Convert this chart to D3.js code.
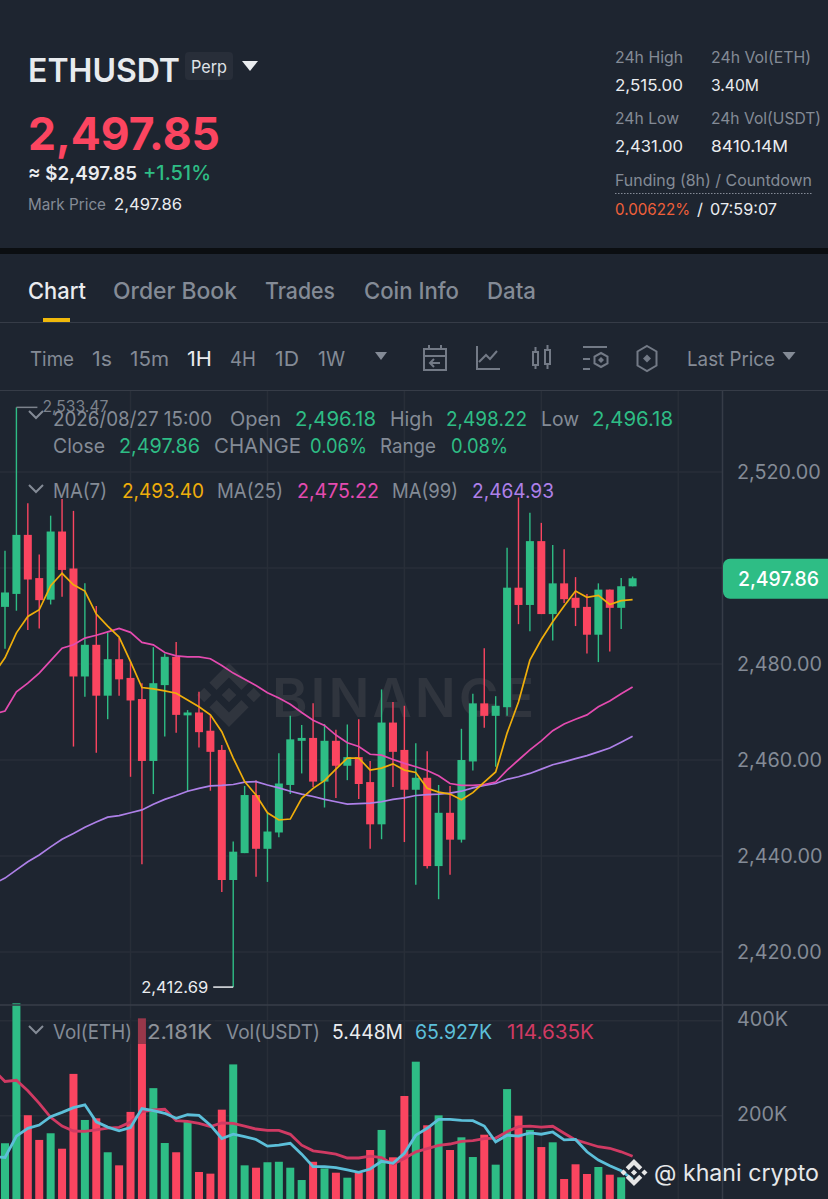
<!DOCTYPE html>
<html>
<head>
<meta charset="utf-8">
<script src="https://cdn.jsdelivr.net/npm/d3@7"></script>
<style>
html, body { margin: 0; padding: 0; background: #1e2530; overflow: hidden; }
svg { display: block; font-family: Inter, "Open Sans", sans-serif; }
</style>
</head>
<body>
<div id="chart"></div>
<script>
// candles, oldest first
var candleOpen = [2491.9,2494.6,2506.9,2497.9,2493.4,2507.6,2499.9,2477.4,2484.0,2473.4,2481.0,2477.1,2472.7,2459.8,2475.6,2481.5,2469.3,2469.9,2466.1,2462.1,2435.0,2440.6,2452.7,2441.5,2444.9,2454.8,2464.0,2464.6,2455.5,2464.0,2458.8,2460.6,2455.4,2446.6,2467.8,2462.1,2453.8,2456.3,2437.9,2449.0,2443.4,2459.7,2471.8,2469.2,2471.0,2495.9,2492.3,2505.6,2490.4,2496.8,2493.8,2491.9,2486.1,2495.5,2491.7,2496.18];
var candleHigh = [2503.6,2533.47,2513.5,2502.8,2510.9,2514.4,2511.9,2496.8,2492.1,2486.5,2485.4,2480.5,2476.0,2483.5,2482.2,2484.6,2470.4,2474.2,2469.4,2463.1,2443.0,2454.6,2455.8,2449.0,2461.4,2469.2,2467.3,2471.8,2467.5,2466.3,2467.4,2468.5,2459.8,2474.7,2472.1,2471.3,2463.5,2461.8,2454.8,2454.6,2466.5,2473.8,2483.3,2473.3,2504.2,2514.7,2511.5,2509.4,2504.8,2503.9,2498.1,2494.6,2496.8,2495.5,2497.9,2498.22];
var candleLow = [2483.2,2491.1,2487.1,2487.4,2492.4,2494.0,2462.8,2473.2,2461.5,2468.5,2473.4,2456.5,2438.3,2452.9,2464.9,2465.7,2453.4,2462.6,2453.6,2432.5,2412.69,2440.6,2435.7,2434.6,2443.9,2452.9,2457.2,2454.4,2450.1,2452.1,2455.8,2451.9,2441.5,2443.5,2454.4,2442.9,2434.0,2437.4,2431.0,2436.1,2442.8,2457.8,2466.7,2458.6,2469.2,2488.3,2486.8,2490.4,2484.9,2492.7,2487.9,2482.2,2480.4,2482.6,2487.3,2496.18];
var candleClose = [2494.9,2506.9,2497.6,2493.3,2507.6,2499.6,2477.4,2484.0,2473.4,2481.0,2476.8,2472.4,2459.8,2476.0,2481.5,2469.4,2469.9,2465.8,2461.7,2435.0,2440.9,2452.7,2441.5,2445.1,2455.1,2464.3,2464.6,2455.5,2464.0,2458.8,2460.6,2455.0,2446.6,2467.8,2461.7,2453.8,2456.3,2437.9,2449.0,2443.4,2460.0,2471.8,2469.2,2471.3,2495.9,2492.3,2505.6,2490.4,2496.8,2493.5,2491.7,2486.1,2495.5,2491.7,2496.2,2497.86];
// thousands of ETH
var volumes = [142,436.6,201,149,163,130.5,288,191,194.5,123,95.5,208,405,258,142.5,123,187,81.5,78,212.7,308,95.5,90.5,102,103,90.5,64.6,103,89,80,69.5,80,127.8,170,112.4,241.5,313.7,179.8,200.8,127.8,154.5,113,160,96.9,256,200,170,134,144,66.7,97.7,77.3,92,75.8,70.3,2.181];

// moving averages start one bar left of the first candle, outside the frame
var ma7 = [2477.9,2481.3,2486.5,2489.9,2491.3,2496.3,2498.9,2496.5,2495.2,2490.4,2487.9,2485.6,2480.5,2475.1,2474.8,2474.4,2473.9,2472.5,2471.1,2469.4,2465.9,2460.4,2455.5,2452.7,2449.0,2447.5,2447.7,2452.0,2454.1,2455.7,2458.1,2460.4,2460.4,2457.9,2458.3,2459.2,2457.9,2457.4,2454.1,2453.3,2452.9,2451.7,2453.2,2455.4,2457.5,2465.6,2472.1,2480.8,2485.1,2488.8,2492.1,2495.2,2493.9,2494.3,2492.4,2493.2,2493.40];
var ma25 = [2469.6,2470.2,2474.2,2476.0,2478.1,2480.7,2483.3,2484.0,2485.4,2486.0,2486.7,2487.4,2486.6,2484.5,2484.0,2482.4,2481.7,2481.5,2481.5,2481.1,2479.7,2478.1,2476.8,2475.5,2474.0,2472.9,2471.6,2469.9,2468.3,2467.2,2465.2,2463.6,2462.8,2461.2,2461.0,2460.1,2459.3,2458.6,2457.8,2456.7,2455.1,2454.7,2454.7,2454.9,2455.4,2457.9,2460.0,2462.1,2464.0,2466.1,2467.5,2468.5,2469.4,2471.1,2472.3,2473.8,2475.22];
var ma99 = [2434.2,2435.4,2437.1,2438.8,2440.2,2441.9,2443.5,2444.7,2446.0,2447.1,2448.1,2448.4,2449.0,2449.6,2450.8,2451.8,2452.6,2453.5,2454.1,2454.6,2454.7,2454.9,2455.4,2455.5,2454.8,2454.2,2453.5,2452.9,2452.4,2451.8,2451.3,2450.8,2450.9,2451.0,2451.3,2451.8,2452.1,2452.6,2452.8,2452.9,2453.1,2453.5,2454.2,2454.7,2455.1,2456.0,2456.5,2457.2,2458.1,2459.0,2459.6,2460.3,2460.9,2461.7,2462.5,2463.7,2464.93];
var volMaShort = [114,112,157,173.5,180.4,198,207,217,223,187,176,168,175,215,210.5,205,194.5,202,200.8,180,152,161,156,150,136,138,142,119,92.6,92.6,90.5,85.7,80.8,87.8,104,99.8,120.8,159,173.5,192.4,192.4,190.3,189.5,178.3,145,159,157,164,161,165.7,149,150,124,106.7,94.7,84.2,65.927];
var volMaLong = [296,272,274.5,252.6,226,196.6,178,167.8,167,170,174,175.6,186.7,208.4,212,213.5,189.5,188,184,177,184.6,184,178,172,169,169,160.8,138,126,122.9,119,111,111,115,112,98,110,124,130.5,137.6,140.4,146,147.4,151.6,153,166.3,177,178,176,177.7,163,149,142,134.7,131.4,124,114.635];

var priceTicks = [2420, 2440, 2460, 2480, 2500, 2520];
var priceLabels = [2420, 2440, 2460, 2480, 2520];
var volTicks = [200, 400];
var gridBars = [-1, 11, 23, 35, 47, 59];

var tabs = ["Chart", "Order Book", "Trades", "Coin Info", "Data"];
var tabX = [28, 113, 265, 364, 487];
var tabW = [58, 124, 70, 95, 49];
var intervals = ["Time", "1s", "15m", "1H", "4H", "1D", "1W"];
var intervalX = [30, 92, 130, 187, 230, 275, 318];
var intervalW = [44, 20, 39, 25, 26, 24, 27];

var green = "#2ebd85", red = "#fb4560", grey = "#848b96", white = "#eaecef";
var bg = "#1e2530", gridCol = "#282e38", lineCol = "#363c47";
var width = 828, height = 1199, axisX = 722;

var svg = d3.select("#chart").append("svg")
    .attr("width", width)
    .attr("height", height);

var x = d3.scaleLinear().domain([0, 55]).range([5, 632.6]);
var y = d3.scaleLinear().domain([2420, 2520]).range([952, 472]);
var yVol = d3.scaleLinear().domain([0, 400]).range([1210.7, 1020.7]);

// w is the width the text takes up in the reference
function label(g, str, px, py, size, col, weight, w) {
  var t = g.append("text")
      .attr("x", px)
      .attr("y", py)
      .attr("font-size", size)
      .attr("font-weight", weight || 400)
      .attr("fill", col)
      .text(str);
  if (w) t.attr("textLength", w).attr("lengthAdjust", "spacingAndGlyphs");
  return t;
}
function tri(g, cx, cy, w, h, col) {
  g.append("path")
      .attr("d", "M" + (cx - w / 2) + "," + (cy - h / 2) + "h" + w + "l" + (-w / 2) + "," + h + "z")
      .attr("fill", col);
}
function chevron(g, cx, cy) {
  g.append("path")
      .attr("d", "M" + (cx - 7) + "," + (cy - 4) + "l7,7l7,-7")
      .attr("fill", "none")
      .attr("stroke", grey)
      .attr("stroke-width", 2);
}
// exchange logo, drawn in a 126.61 box
var logoPath = "M38.73 53.2L63.3 28.63l24.58 24.58 14.3-14.3L63.3 0 24.43 38.88z" +
    "M0 63.31l14.3-14.31 14.31 14.31-14.31 14.3z" +
    "M38.73 73.41L63.3 97.98l24.58-24.58 14.31 14.29L63.3 126.61 24.43 87.73z" +
    "M98 63.31l14.3-14.31 14.31 14.3-14.31 14.31z" +
    "M77.83 63.3L63.3 48.76 48.78 63.28 63.3 77.8z";
function logo(g, cx, cy, size, col) {
  var k = size / 126.61;
  g.append("path")
      .attr("d", logoPath)
      .attr("fill", col)
      .attr("transform", "translate(" + (cx - size / 2) + "," + (cy - size / 2) + ") scale(" + k + ")");
}

// ---- header ----
var head = svg.append("g");
label(head, "ETHUSDT", 28, 82, 32.5, "#e8ebee", 600, 152);
head.append("rect").attr("x", 185).attr("y", 52).attr("width", 48).attr("height", 28).attr("rx", 4).attr("fill", "#282e39");
label(head, "Perp", 191, 73, 17, "#dfe3e8", 400, 36);
tri(head, 250, 66, 16, 10, "#eaecef");
label(head, "2,497.85", 28, 150, 45, red, 700, 192);
label(head, "≈ $2,497.85", 28, 180, 19, white, 600, 109);
label(head, "+1.51%", 143, 180, 19.5, green, 500, 68);
label(head, "Mark Price", 28, 210, 15.5, grey, 400, 78);
label(head, "2,497.86", 114, 210, 16.5, white, 400, 68);

label(head, "24h High", 615, 63, 16.5, grey, 400, 68);
label(head, "24h Vol(ETH)", 711, 63, 16.5, grey, 400, 100);
label(head, "2,515.00", 615, 91, 16.5, white, 400, 68);
label(head, "3.40M", 711, 91, 16.5, white, 400, 48);
label(head, "24h Low", 615, 124, 16.5, grey, 400, 64);
label(head, "24h Vol(USDT)", 711, 124, 16.5, grey, 400, 110);
label(head, "2,431.00", 615, 152, 16.5, white, 400, 68);
label(head, "8410.14M", 711, 152, 16.5, white, 400, 77);
label(head, "Funding (8h) / Countdown", 615, 186, 16.2, grey, 400, 197);
head.append("line").attr("x1", 615).attr("x2", 812).attr("y1", 193.5).attr("y2", 193.5)
    .attr("stroke", grey).attr("stroke-width", 1).attr("stroke-dasharray", "1.5,1.5");
label(head, "0.00622%", 615, 215, 16.5, "#f0603a", 400, 75);
label(head, "/", 697, 215, 16.5, white);
label(head, "07:59:07", 710, 215, 16.5, white, 400, 67);

// black band between header and tabs
head.append("rect").attr("x", 0).attr("y", 248).attr("width", width).attr("height", 6).attr("fill", "#0b0e11");

// ---- tabs and toolbar ----
var nav = svg.append("g");
tabs.forEach(function(t, i) {
  label(nav, t, tabX[i], 299, 23, i == 0 ? white : grey, 500, tabW[i]);
});
nav.append("rect").attr("x", 43).attr("y", 318).attr("width", 27).attr("height", 4.5).attr("fill", "#f0b90b");
nav.append("line").attr("x1", 0).attr("x2", width).attr("y1", 322.5).attr("y2", 322.5).attr("stroke", lineCol);
intervals.forEach(function(t, i) {
  label(nav, t, intervalX[i], 366, 20, t == "1H" ? white : grey, 400, intervalW[i]);
});
tri(nav, 381, 356, 12, 8, grey);
label(nav, "Last Price", 687, 366, 20, grey, 400, 88);
tri(nav, 789, 356, 13, 8, grey);
nav.append("line").attr("x1", 0).attr("x2", width).attr("y1", 390.5).attr("y2", 390.5).attr("stroke", lineCol);

var icons = nav.append("g").attr("fill", "none").attr("stroke", "#737a86").attr("stroke-width", 2);
icons.append("path").attr("d", "M424,349h22v21h-22zM424,356h22M429,345v4M441,345v4M440,363h-10m4,-4l-4,4l4,4");
icons.append("path").attr("d", "M477,346v23h23M479,362l7,-7l4,4l7,-8");
icons.append("path").attr("d", "M533,352h5v13h-5zM545,350h5v14h-5zM535.5,347v5M535.5,365v4M547.5,345v5M547.5,364v5");
icons.append("path").attr("d", "M583,347h24M583,359h7M583,369h7M601,353l6.5,3.5v7l-6.5,3.5l-6.5,-3.5v-7z");
icons.append("path").attr("d", "M647,346l9.5,5.5v14l-9.5,5.5l-9.5,-5.5v-14z");
icons.append("path").attr("d", "M647,354.5l4,4l-4,4l-4,-4z").attr("fill", "#737a86").attr("stroke", "none");
icons.append("path").attr("d", "M601,357l3,3l-3,3l-3,-3z").attr("fill", "#737a86").attr("stroke", "none");

// ---- grid ----
var grid = svg.append("g").attr("stroke", gridCol).attr("stroke-width", 1.5);
priceTicks.forEach(function(t) {
  grid.append("line").attr("x1", 0).attr("x2", axisX).attr("y1", y(t)).attr("y2", y(t));
});
volTicks.forEach(function(t) {
  grid.append("line").attr("x1", 0).attr("x2", axisX).attr("y1", yVol(t)).attr("y2", yVol(t));
});
gridBars.forEach(function(b) {
  grid.append("line").attr("x1", x(b)).attr("x2", x(b)).attr("y1", 391).attr("y2", height);
});

// ---- watermark ----
var mark = svg.append("g");
logo(mark, 229, 695, 64, "#30353e");
mark.append("text").attr("x", 272).attr("y", 717).attr("font-size", 54).attr("font-weight", 600)
    .attr("letter-spacing", 3).attr("fill", "#30353e").text("BINANCE");

// ---- price pane ----
var defs = svg.append("defs");
defs.append("clipPath").attr("id", "pricePane").append("rect")
    .attr("x", 0).attr("y", 391).attr("width", axisX).attr("height", 613);
defs.append("clipPath").attr("id", "volPane").append("rect")
    .attr("x", 0).attr("y", 1002).attr("width", axisX).attr("height", 197);

var pricePane = svg.append("g").attr("clip-path", "url(#pricePane)");
var bars = d3.range(candleOpen.length);
function colour(i) { return candleClose[i] >= candleOpen[i] ? green : red; }

pricePane.selectAll("line.wick")
  .data(bars)
  .enter()
  .append("line")
    .attr("class", "wick")
    .attr("x1", function(i) { return x(i); })
    .attr("x2", function(i) { return x(i); })
    .attr("y1", function(i) { return y(candleHigh[i]); })
    .attr("y2", function(i) { return y(candleLow[i]); })
    .attr("stroke", colour)
    .attr("stroke-width", 1.4);

pricePane.selectAll("rect.body")
  .data(bars)
  .enter()
  .append("rect")
    .attr("class", "body")
    .attr("x", function(i) { return x(i) - 4; })
    .attr("width", 8)
    .attr("y", function(i) { return y(Math.max(candleOpen[i], candleClose[i])); })
    .attr("height", function(i) { return Math.max(1, Math.abs(y(candleOpen[i]) - y(candleClose[i]))); })
    .attr("fill", colour);

var priceLine = d3.line()
    .x(function(d, i) { return x(i - 1); })
    .y(function(d) { return y(d); });

[[ma99, "#ae80e8"], [ma25, "#e44bb0"], [ma7, "#efae0b"]].forEach(function(s) {
  pricePane.append("path")
      .attr("d", priceLine(s[0]))
      .attr("fill", "none")
      .attr("stroke", s[1])
      .attr("stroke-width", 1.7);
});

// extreme price callouts
var hiBar = candleHigh.indexOf(d3.max(candleHigh)), loBar = candleLow.indexOf(d3.min(candleLow));
pricePane.append("line").attr("x1", x(hiBar)).attr("x2", x(hiBar) + 21)
    .attr("y1", y(candleHigh[hiBar])).attr("y2", y(candleHigh[hiBar])).attr("stroke", "#7c828c").attr("stroke-width", 1.5);
label(pricePane, d3.format(",.2f")(candleHigh[hiBar]), x(hiBar) + 26, y(candleHigh[hiBar]) + 5, 16, "#7c828c", 400, 66);
pricePane.append("line").attr("x1", x(loBar) - 20).attr("x2", x(loBar))
    .attr("y1", y(candleLow[loBar])).attr("y2", y(candleLow[loBar])).attr("stroke", white).attr("stroke-width", 1.5);
label(pricePane, d3.format(",.2f")(candleLow[loBar]), x(loBar) - 92, y(candleLow[loBar]) + 6, 16.5, white, 400, 67);

// ---- price legends ----
var legend = svg.append("g");
chevron(legend, 36, 415);
label(legend, "2026/08/27 15:00", 53, 426, 20, grey, 400, 159);
label(legend, "Open", 230, 426, 20, grey, 400, 51);
label(legend, "2,496.18", 295, 426, 20, green, 400, 81);
label(legend, "High", 390, 426, 20, grey, 400, 43);
label(legend, "2,498.22", 446, 426, 20, green, 400, 81);
label(legend, "Low", 541, 426, 20, grey, 400, 38);
label(legend, "2,496.18", 592, 426, 20, green, 400, 81);
label(legend, "Close", 53, 453, 20, grey, 400, 52);
label(legend, "2,497.86", 119, 453, 20, green, 400, 81);
label(legend, "CHANGE", 214, 453, 20, grey, 400, 87);
label(legend, "0.06%", 310, 453, 20, green, 400, 57);
label(legend, "Range", 380, 453, 20, grey, 400, 56);
label(legend, "0.08%", 451, 453, 20, green, 400, 57);
chevron(legend, 36, 489);
label(legend, "MA(7)", 53, 498, 20, grey, 400, 54);
label(legend, "2,493.40", 122, 498, 20, "#efae0b", 400, 82);
label(legend, "MA(25)", 217, 498, 20, grey, 400, 66);
label(legend, "2,475.22", 297, 498, 20, "#e44bb0", 400, 82);
label(legend, "MA(99)", 392, 498, 20, grey, 400, 66);
label(legend, "2,464.93", 472, 498, 20, "#ae80e8", 400, 82);

// ---- volume pane ----
var volPane = svg.append("g").attr("clip-path", "url(#volPane)");
volPane.selectAll("rect.vol")
  .data(bars)
  .enter()
  .append("rect")
    .attr("class", "vol")
    .attr("x", function(i) { return x(i) - 4; })
    .attr("width", 8)
    .attr("y", function(i) { return yVol(volumes[i]); })
    .attr("height", function(i) { return yVol(0) - yVol(volumes[i]); })
    .attr("fill", colour);

var volLine = d3.line()
    .x(function(d, i) { return x(i - 1); })
    .y(function(d) { return yVol(d); });

[[volMaLong, "#d03a63"], [volMaShort, "#5cbfd9"]].forEach(function(s) {
  volPane.append("path")
      .attr("d", volLine(s[0]))
      .attr("fill", "none")
      .attr("stroke", s[1])
      .attr("stroke-width", 2.8);
});

volPane.append("rect").attr("x", 130).attr("y", 1018).attr("width", 85).attr("height", 26)
    .attr("fill", bg).attr("opacity", 0.45);

chevron(legend, 36, 1030);
label(legend, "Vol(ETH)", 53, 1039, 20, grey, 400, 79);
label(legend, "2.181K", 147, 1039, 20, white, 400, 65);
label(legend, "Vol(USDT)", 226, 1039, 20, grey, 400, 94);
label(legend, "5.448M", 332, 1039, 20, white, 400, 71);
label(legend, "65.927K", 415, 1039, 20, "#5cbfd9", 400, 77);
label(legend, "114.635K", 507, 1039, 20, "#d03a63", 400, 87);

// ---- axes ----
var axisStyle = function(g) {
  g.select(".domain").remove();
  g.selectAll("text")
      .attr("font-size", 19.8)
      .attr("font-family", "Inter, sans-serif")
      .attr("fill", grey);
};
svg.append("g")
    .attr("transform", "translate(737,0)")
    .call(d3.axisRight(y).tickValues(priceLabels).tickSize(0).tickPadding(0).tickFormat(d3.format(",.2f")))
    .call(axisStyle);
svg.append("g")
    .attr("transform", "translate(737,-2)")
    .call(d3.axisRight(yVol).tickValues(volTicks).tickSize(0).tickPadding(0).tickFormat(function(d) { return d + "K"; }))
    .call(axisStyle);

svg.append("line").attr("x1", axisX + 0.5).attr("x2", axisX + 0.5).attr("y1", 391).attr("y2", height)
    .attr("stroke", lineCol).attr("stroke-width", 1.5);
svg.append("line").attr("x1", 0).attr("x2", width).attr("y1", 1005).attr("y2", 1005)
    .attr("stroke", lineCol).attr("stroke-width", 2).attr("opacity", 0.8);

// last price tag
var last = candleClose[candleClose.length - 1];
svg.append("path")
    .attr("d", "M828," + (y(last) - 19.5) + "h-98a7,7 0 0 0 -7,7v26a7,7 0 0 0 7,7h98z")
    .attr("fill", green);
label(svg, d3.format(",.2f")(last), 738, y(last) + 8, 20, "#ffffff", 500, 81);

// ---- bottom right signature ----
logo(svg, 634, 1172.5, 27, "#e6e6e6");
label(svg, "@ khani crypto", 654, 1181, 22.5, "#e6e8ea", 400, 165);
</script>
</body>
</html>
